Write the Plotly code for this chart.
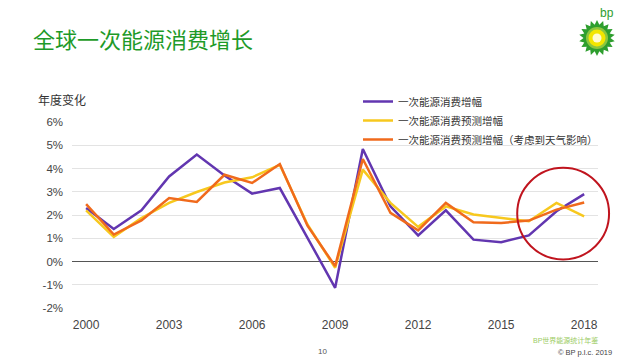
import math
import plotly.graph_objects as go

years = list(range(2000, 2019))
actual = [2.3, 1.4, 2.2, 3.66, 4.6, 3.7, 2.92, 3.16, 1.02, -1.13,
          4.84, 2.37, 1.12, 2.2, 0.94, 0.83, 1.12, 2.16, 2.9]
forecast = [2.2, 1.06, 1.87, 2.52, 2.99, 3.4, 3.62, 4.16, 1.59, -0.27,
            3.95, 2.52, 1.49, 2.37, 2.02, 1.87, 1.73, 2.52, 1.94]
forecast_weather = [2.47, 1.16, 1.77, 2.73, 2.56, 3.73, 3.38, 4.19, 1.54, -0.2,
                    4.41, 2.09, 1.34, 2.52, 1.69, 1.66, 1.76, 2.23, 2.54]
names = ["一次能源消费增幅", "一次能源消费预测增幅", "一次能源消费预测增幅（考虑到天气影响）"]
colors = ["#6236b0", "#f7c81e", "#f06a1c"]
x_ticks = [2000, 2003, 2006, 2009, 2012, 2015, 2018]
y_ticks = [-2, -1, 0, 1, 2, 3, 4, 5, 6]
y_labels = [f"{v}%" for v in y_ticks]

W, H = 640, 360
L, R, T, B = 72, 42, 122, 52
PW, PH = W - L - R, H - T - B
XR = [1999.49, 2018.5]
YR = [-2, 6]

def px(xp):
    return (xp - L) / PW

def py(yp):
    return (H - B - yp) / PH

def dx(v):
    return (v - XR[0]) / (XR[1] - XR[0])

def dy(v):
    return (v - YR[0]) / (YR[1] - YR[0])

fig = go.Figure()
for series, nm, c in zip([actual, forecast, forecast_weather], names, colors):
    fig.add_trace(go.Scatter(x=years, y=series, name=nm, mode="lines",
                             line=dict(color=c, width=2.5)))

cjk = "Liberation Sans, Noto Sans CJK SC"
fig.update_layout(
    width=W, height=H,
    margin=dict(l=L, r=R, t=T, b=B),
    paper_bgcolor="white", plot_bgcolor="white",
    font=dict(family=cjk, color="#444"),
    title=dict(text="全球一次能源消费增长", xref="container", yref="container",
               x=33 / W, y=1 - 40 / H, xanchor="left", yanchor="middle",
               font=dict(family="Noto Sans CJK SC", size=22, color="#1e9a28")),
    legend=dict(x=px(358), y=py(87), xanchor="left", yanchor="top",
                bgcolor="rgba(0,0,0,0)", font=dict(size=10.5, color="#333",
                family="Noto Sans CJK SC"), itemwidth=30, tracegroupgap=0),
    showlegend=True,
)
fig.update_xaxes(range=XR, tickvals=x_ticks, showgrid=False,
                 zeroline=False, showline=False, ticks="", ticklabelstandoff=8,
                 tickfont=dict(size=12, color="#444"))
fig.update_yaxes(range=YR, tickvals=y_ticks, ticktext=y_labels,
                 showgrid=True, gridcolor="#e3e3e3", gridwidth=1,
                 zeroline=True, zerolinecolor="#555", zerolinewidth=1.2,
                 ticks="", ticklabelstandoff=8,
                 tickfont=dict(size=11.5, color="#444"))

# red highlight circle (paper coords so it is not clipped at the plot edge)
fig.add_shape(type="circle", xref="paper", yref="paper",
              x0=dx(2015.58), x1=dx(2018.9), y0=dy(0.09), y1=dy(4.03),
              line=dict(color="#c0141e", width=2))

# BP logo (decorative)
cx, cy, ro, ri = 597, 38, 18, 13.5
pts = []
n = 18
for i in range(2 * n):
    r = ro if i % 2 == 0 else ri
    a = math.pi * i / n - math.pi / 2
    pts.append((px(cx + r * math.cos(a)), py(cy + r * math.sin(a))))
path = "M " + " L ".join(f"{a:.5f},{b:.5f}" for a, b in pts) + " Z"
fig.add_shape(type="path", xref="paper", yref="paper", path=path,
              fillcolor="#2e9e2e", line=dict(width=0))
for rr, col in [(11, "#8cc63f"), (8.5, "#f2e600"), (4.5, "#fffbd0")]:
    fig.add_shape(type="circle", xref="paper", yref="paper",
                  x0=px(cx - rr), x1=px(cx + rr), y0=py(cy + rr), y1=py(cy - rr),
                  fillcolor=col, line=dict(width=0))

annos = [
    dict(text="bp", x=px(607), y=py(13), size=12, color="#2e9e2e", xanchor="center"),
    dict(text="年度变化", x=px(36), y=py(100), size=12, color="#333", xanchor="left"),
    dict(text="10", x=px(322), y=py(351), size=8, color="#555", xanchor="center"),
    dict(text="BP世界能源统计年鉴", x=px(600), y=py(340), size=7, color="#9ccc66", xanchor="right"),
    dict(text="© BP p.l.c. 2019", x=px(614), y=py(352), size=7.5, color="#444", xanchor="right"),
]
for a in annos:
    fig.add_annotation(text=a["text"], x=a["x"], y=a["y"], xref="paper", yref="paper",
                       xanchor=a["xanchor"], yanchor="middle", showarrow=False,
                       font=dict(size=a["size"], color=a["color"], family=cjk))

fig.write_html("out.html", config={"displayModeBar": False},
               post_script="document.body.style.margin='0';")
